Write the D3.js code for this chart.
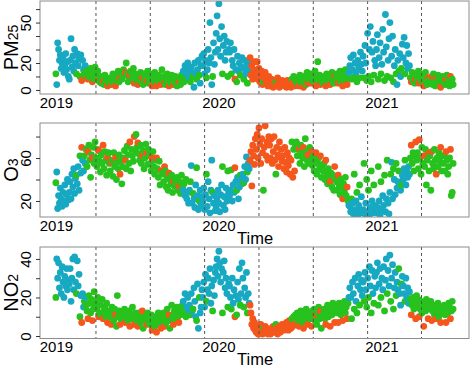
<!DOCTYPE html>
<meta charset="utf-8">
<title>PM25, O3 and NO2 time series</title>
<style>
  body { margin: 0; background: #fff; }
  svg { display: block; font-family: "Liberation Sans", Arial, Helvetica, sans-serif; }
  .box { fill: none; stroke: #8c8c8c; stroke-width: 1; }
  .brk { stroke: #555; stroke-width: 1; stroke-dasharray: 3,3; }
  .domain { display: none; }
  .tick line { stroke: #333; }
  .tick text { font-size: 15px; fill: #000; }
  .ttl { font-size: 20px; }
  .time { font-size: 16.5px; }
</style>
<body>
<script src="https://d3js.org/d3.v7.min.js"></script>
<script>

var width = 474, height = 368;

// one sample every 2 days from 2019-01-01, one row ~ one month
var firstDay = "2019-01-01", stepDays = 2;

// c = cyan, g = green, o = orange
var periodRows = [
  "gcccccccccccccc", "ccccccccgcccgco", "ccgcggoggggoggg", "gggoggggoggggog",
  "ggoggggoggggogg", "gggoggggoggggog", "ggoggggoggggogg", "gggoggggoggggog",
  "ggoggggoggggogg", "gggoggggcgcgccc", "cgccgcccgccgccc", "ccccgccccccgccc",
  "cccccccgcccccgc", "ccgcccocgcccgcc", "cgcccgccooooooo", "oooooooogoooooo",
  "ooooooogooooooo", "oooooooooogogog", "gggoggggoggggog", "ggoggggoggggogg",
  "gggoggggoggggog", "ggoggggoggggogc", "ccgccgccgccgccc", "cgccgcgccgccgcc",
  "ccgccgcccgccgcc", "cgccgccgccgccgc", "ccgcccccgoggggo", "gggoggggoggggog",
  "ggoggggoggggogg", "gggoggggoggg"
];

var pm25Rows = [
  [12,4,35,30,22,26,16,20,24,13,18,27,15,21,10],
  [8,22,38,17,25,14,30,20,12,27,18,23,10,26,7],
  [22,15,13,18,10,14,8,12,9,16,11,6,13,8,17],
  [12,8,14,7,6,10,5,9,6,4,11,7,5,3,8],
  [5,9,4,6,12,8,5,3,10,7,14,6,9,13,8],
  [10,15,12,13,20,12,6,9,11,14,7,10,16,5,12],
  [8,5,4,11,7,13,6,9,4,12,8,10,6,14,5],
  [9,12,6,3,10,7,13,5,3,8,11,6,9,4,15],
  [7,10,5,4,8,12,6,3,9,5,11,7,4,6,10],
  [5,3,8,6,9,4,11,7,14,6,18,9,12,20,16],
  [8,6,17,13,10,2,20,12,8,15,22,11,5,18,25],
  [18,27,12,22,9,15,30,20,50,24,4,10,35,19,28],
  [42,55,30,64,38,25,47,12,33,40,22,28,36,10,30],
  [28,35,12,22,18,30,8,15,6,25,14,20,11,17,24],
  [16,8,22,12,18,5,14,20,24,11,18,8,15,21,9],
  [12,21,8,16,6,10,14,4,6,9,13,5,7,3,10],
  [6,3,8,5,2,7,4,6,3,9,5,2,6,4,7],
  [4,6,3,5,2,7,4,3,6,2,8,5,10,3,7],
  [6,9,4,3,11,7,5,8,2,10,6,4,13,5,8],
  [8,12,5,7,10,6,14,3,9,21,7,11,4,8,6],
  [5,10,7,3,12,8,6,11,4,9,13,7,5,10,8],
  [12,7,5,9,14,6,10,3,8,11,15,7,4,9,13],
  [18,24,8,15,26,10,20,13,6,22,17,9,28,19,14],
  [25,9,33,20,7,42,10,30,47,6,28,36,11,22,18],
  [30,41,8,24,35,12,19,45,28,7,56,32,10,22,38],
  [50,9,25,40,6,18,30,12,4,22,14,27,10,16,34],
  [24,39,12,20,33,16,27,18,9,6,13,7,10,5,8],
  [11,7,14,5,9,12,6,8,3,10,13,6,4,9,7],
  [8,5,10,4,12,7,3,9,6,11,5,8,2,7,10],
  [6,9,4,8,11,5,7,3,10,6,8,4]
];

var o3Rows = [
  [37,47,13,25,18,32,22,15,28,20,35,17,26,40,21],
  [28,38,22,45,33,50,27,41,44,36,52,30,62,46,70],
  [58,48,62,55,68,52,66,72,58,42,63,60,70,55,75],
  [60,52,68,67,57,47,63,55,72,50,66,58,44,61,65],
  [55,48,56,58,43,65,52,60,40,56,50,63,45,57,36],
  [52,60,67,58,50,71,63,55,75,48,68,62,57,80,66],
  [82,70,74,64,58,72,55,62,67,50,60,73,65,54,68],
  [62,55,48,60,66,52,45,58,60,50,42,57,35,48,46],
  [45,38,52,48,33,42,30,46,40,36,44,28,38,34,40],
  [35,42,30,34,38,27,44,32,30,36,25,40,22,28,18],
  [30,38,53,18,27,22,14,35,51,25,12,20,30,16,24],
  [20,32,12,26,45,15,38,22,9,30,58,28,18,25,11],
  [14,22,30,18,10,26,35,52,16,24,12,32,20,48,28],
  [25,30,49,20,35,28,51,38,30,42,22,33,44,40,36],
  [45,37,52,40,61,47,55,50,58,66,34,72,62,54,78],
  [68,82,60,88,73,55,78,65,30,70,90,62,75,58,80],
  [72,60,78,55,66,80,58,45,70,63,52,75,61,68,57],
  [62,50,70,56,47,65,53,60,45,58,75,42,68,48,72],
  [75,62,68,69,55,72,65,60,70,52,78,66,58,63,55],
  [70,58,66,53,62,48,57,65,45,55,60,50,62,42,52],
  [48,55,40,58,45,36,50,42,38,46,33,44,30,52,41],
  [38,30,44,35,26,40,32,22,36,28,42,25,33,20,16],
  [15,10,22,18,8,45,12,20,28,7,16,35,11,24,9],
  [12,55,8,18,40,10,30,7,14,48,20,9,35,16,11],
  [9,14,52,20,7,38,12,25,16,44,10,22,58,18,8],
  [28,45,56,22,50,40,26,55,32,38,48,35,30,35,44],
  [40,50,58,35,47,42,52,45,60,72,55,65,48,62,75],
  [58,65,50,77,60,45,70,55,62,52,68,35,58,64,48],
  [62,30,66,55,50,68,58,45,60,52,65,57,70,48,62],
  [55,62,48,66,58,45,52,60,68,25,28,55]
];

var no2Rows = [
  [20,40,30,38,25,33,22,36,28,20,31,26,35,24,29],
  [27,35,18,30,40,24,41,28,22,39,26,32,10,21,7],
  [22,15,18,20,16,13,9,21,17,12,19,8,14,23,16],
  [18,14,20,10,12,16,11,19,9,13,15,10,17,7,12],
  [13,10,6,15,12,8,14,11,5,21,10,13,6,9,12],
  [11,9,14,7,10,12,8,13,5,10,9,15,11,6,12],
  [10,8,5,12,9,7,11,13,4,9,8,10,6,12,7],
  [9,6,11,3,8,10,5,7,2,9,12,6,8,4,10],
  [8,12,5,10,7,14,9,11,4,8,16,10,6,13,9],
  [12,15,10,7,14,11,13,16,18,12,22,10,15,20,13],
  [16,11,22,13,14,25,18,10,8,27,4,20,12,15,24],
  [20,28,15,32,18,24,30,22,35,17,26,13,29,21,33],
  [36,40,31,44,38,28,35,12,33,39,25,30,22,15,27],
  [26,20,14,30,17,24,10,21,11,28,19,35,16,22,38],
  [30,15,25,20,33,12,22,17,16,12,6,9,4,7,3],
  [2,5,1,4,3,6,2,1,4,3,5,2,4,1,3],
  [3,1,4,2,5,3,2,6,4,1,3,5,2,4,6],
  [5,3,6,4,7,5,3,8,6,4,9,5,10,6,11],
  [10,12,8,5,11,13,9,7,4,12,10,14,8,6,11],
  [12,9,5,13,10,14,8,11,6,12,15,9,13,4,10],
  [11,14,9,6,13,16,10,12,5,15,11,17,13,7,14],
  [15,12,7,17,14,11,16,8,13,18,12,15,9,17,20],
  [25,20,9,28,22,14,30,18,12,26,32,16,24,29,21],
  [28,18,33,24,15,30,20,36,26,12,34,22,17,31,25],
  [33,38,16,27,35,20,30,24,36,13,29,40,22,34,26],
  [42,18,30,37,14,25,33,21,28,24,35,22,16,27,31],
  [26,22,18,30,20,25,17,23,19,11,16,20,14,18,9],
  [21,16,19,10,14,18,12,15,5,17,13,19,15,9,16],
  [14,18,8,13,16,11,15,9,12,17,10,14,7,15,12],
  [13,16,11,7,14,12,17,15,9,13,18,14]
];

var yearTicks = ["2019", "2020", "2021"];
var breakDates = ["2019-04-01", "2019-08-01", "2019-12-01", "2020-04-01",
                  "2020-08-01", "2020-12-01", "2021-04-01"];

var pmTicks = [0, 10, 20, 30, 40, 50, 60], pmLabels = [0, 20, 50];
var o3Ticks = [20, 40, 60, 80], o3Labels = [20, 60];
var no2Ticks = [0, 10, 20, 30, 40], no2Labels = [0, 20, 40];

var colors = { c: "#17a8c2", g: "#27c21d", o: "#f4561c" };

var panels = [
  { main: "PM", sub: "25", rows: pm25Rows, top: 1, bottom: 94, ydom: [-3, 66], ticks: pmTicks, labels: pmLabels, time: false },
  { main: "O", sub: "3", rows: o3Rows, top: 123, bottom: 217, ydom: [5.1, 92.6], ticks: o3Ticks, labels: o3Labels, time: true },
  { main: "NO", sub: "2", rows: no2Rows, top: 247, bottom: 338.5, ydom: [-1.3, 46.2], ticks: no2Ticks, labels: no2Labels, time: true }
];

var left = 40, right = 469;
var dayMs = 864e5;
var parseDay = d3.timeParse("%Y-%m-%d");
var t0 = parseDay(firstDay);
var codes = periodRows.join("");

function dateAt(i) { return new Date(t0.getTime() + i * stepDays * dayMs); }

var nDays = (codes.length - 1) * stepDays;
var x = d3.scaleTime()
  .domain([new Date(t0.getTime() - 0.04 * nDays * dayMs), new Date(t0.getTime() + 1.04 * nDays * dayMs)])
  .range([left, right]);

var svg = d3.select("body").append("svg")
  .attr("width", width)
  .attr("height", height);

panels.forEach(function(p, k) {
  var y = d3.scaleLinear().domain(p.ydom).range([p.bottom, p.top]);
  var vals = p.rows.flat();
  var pts = vals.map(function(v, i) { return { date: dateAt(i), v: v, c: codes[i] }; });

  svg.append("clipPath").attr("id", "clip" + k)
    .append("rect").attr("x", left).attr("y", p.top).attr("width", right - left).attr("height", p.bottom - p.top);

  var g = svg.append("g");

  g.append("g").attr("clip-path", "url(#clip" + k + ")")
    .selectAll("circle").data(pts).enter().append("circle")
    .attr("cx", function(d) { return x(d.date); })
    .attr("cy", function(d) { return y(d.v); })
    .attr("r", 3.4)
    .attr("fill", function(d) { return colors[d.c]; });

  g.selectAll(".brk").data(breakDates).enter().append("line")
    .attr("class", "brk")
    .attr("x1", function(d) { return x(parseDay(d)); })
    .attr("x2", function(d) { return x(parseDay(d)); })
    .attr("y1", p.top).attr("y2", p.bottom);

  g.append("rect").attr("class", "box")
    .attr("x", left).attr("y", p.top)
    .attr("width", right - left).attr("height", p.bottom - p.top);

  // y axis, labels parallel to the axis
  var ya = g.append("g").attr("transform", "translate(" + left + ",0)")
    .call(d3.axisLeft(y).tickValues(p.ticks).tickSize(4)
      .tickFormat(function(d) { return p.labels.indexOf(d) >= 0 ? d : ""; }));
  ya.selectAll(".tick text")
    .attr("transform", "rotate(-90)")
    .attr("x", 0).attr("y", -9).attr("dy", 0)
    .attr("text-anchor", "middle");

  // x axis, year labels only
  var xa = g.append("g").attr("transform", "translate(0," + p.bottom + ")")
    .call(d3.axisBottom(x).tickValues(yearTicks.map(d3.timeParse("%Y"))).tickSize(0)
      .tickFormat(d3.timeFormat("%Y")));
  xa.selectAll(".tick text").attr("y", 13.5).attr("dy", 0);

  // y title with subscript
  var tx = 18, cy = (p.top + p.bottom) / 2;
  var tt = g.append("text").attr("class", "ttl")
    .attr("x", tx).attr("y", cy)
    .attr("text-anchor", "middle")
    .attr("transform", "rotate(-90," + tx + "," + cy + ")");
  tt.append("tspan").text(p.main);
  tt.append("tspan").style("font-size", "14px").text(p.sub);

  if (p.time) {
    g.append("text").attr("class", "time")
      .attr("x", 237).attr("y", p.bottom + 26.5)
      .text("Time");
  }
});

</script>
